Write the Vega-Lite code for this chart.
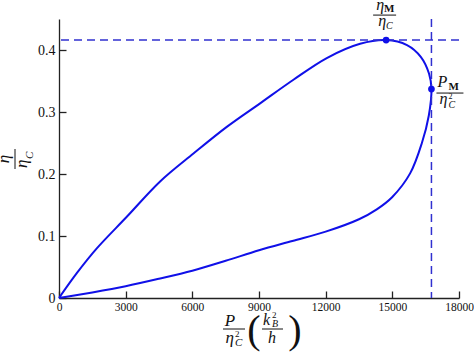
{
  "$schema": "https://vega.github.io/schema/vega-lite/v6.json",
  "width": 400,
  "height": 279,
  "autosize": {"type": "none"},
  "padding": {"left": 59, "top": 19, "right": 15, "bottom": 55},
  "background": "white",
  "config": {
    "view": {"stroke": null},
    "axis": {"grid": true, "ticks": false, "gridColor": "#222", "gridOpacity": 1, "gridWidth": 1.3, "domainColor": "#222", "labelColor": "#111", "labelFont": "Liberation Serif", "domainWidth": 1.3, "labelOverlap": false, "labelFlush": false},
    "text": {"font": "Liberation Serif", "color": "#111", "baseline": "alphabetic"}
  },
  "datasets": {
    "curve": [
      {"p": 0, "eta": 0},
      {"p": 1500, "eta": 0.009},
      {"p": 3000, "eta": 0.019},
      {"p": 4500, "eta": 0.031},
      {"p": 6000, "eta": 0.044},
      {"p": 7500, "eta": 0.060},
      {"p": 9000, "eta": 0.077},
      {"p": 10500, "eta": 0.092},
      {"p": 12000, "eta": 0.107},
      {"p": 13500, "eta": 0.127},
      {"p": 14300, "eta": 0.143},
      {"p": 15000, "eta": 0.163},
      {"p": 15800, "eta": 0.201},
      {"p": 16330, "eta": 0.250},
      {"p": 16640, "eta": 0.294},
      {"p": 16760, "eta": 0.337},
      {"p": 16650, "eta": 0.362},
      {"p": 16280, "eta": 0.389},
      {"p": 15660, "eta": 0.408},
      {"p": 14720, "eta": 0.416},
      {"p": 13550, "eta": 0.410},
      {"p": 12050, "eta": 0.387},
      {"p": 10550, "eta": 0.352},
      {"p": 9050, "eta": 0.314},
      {"p": 7550, "eta": 0.276},
      {"p": 6050, "eta": 0.233},
      {"p": 4550, "eta": 0.188},
      {"p": 3050, "eta": 0.131},
      {"p": 1700, "eta": 0.080},
      {"p": 800, "eta": 0.040},
      {"p": 0, "eta": 0}
    ],
    "pts": [
      {"p": 14720, "eta": 0.416, "name": "M"},
      {"p": 16760, "eta": 0.337, "name": "P"}
    ]
  },
  "layer": [
    {
      "data": {"name": "curve"},
      "mark": {"type": "line", "color": "#1010e8", "strokeWidth": 2, "interpolate": "catmull-rom"},
      "encoding": {
        "x": {
          "field": "p", "type": "quantitative",
          "scale": {"domain": [0, 18000], "nice": false, "zero": false},
          "axis": {
            "title": null,
            "values": [0, 1500, 3000, 4500, 6000, 7500, 9000, 10500, 12000, 13500, 15000, 16500, 18000],
            "labelExpr": "datum.value % 3000 === 0 ? format(datum.value, 'd') : ''",
            "gridDash": {"condition": {"test": "datum.value % 3000 !== 0", "value": [0, 275, 4, 1000]}, "value": [0, 272, 7, 1000]},
            "labelPadding": 3,
            "labelFontSize": 11.5
          }
        },
        "y": {
          "field": "eta", "type": "quantitative",
          "scale": {"domain": [0, 0.45], "nice": false, "zero": false},
          "axis": {
            "title": null,
            "values": [0, 0.05, 0.1, 0.15, 0.2, 0.25, 0.3, 0.35, 0.4, 0.45],
            "labelExpr": "datum.value === 0 ? '0' : (round(datum.value * 100) % 10 === 0 ? format(datum.value, '.1f') : '')",
            "gridDash": {"condition": {"test": "round(datum.value * 100) % 10 !== 0", "value": [4, 1000]}, "value": [7, 1000]},
            "labelPadding": 4,
            "labelFontSize": 14
          }
        },
        "order": {"value": null}
      }
    },
    {
      "data": {"name": "pts"},
      "transform": [{"filter": "datum.name === 'M'"}],
      "mark": {"type": "rule", "color": "#3030d0", "strokeWidth": 1.5, "strokeDash": [8, 5]},
      "encoding": {"y": {"field": "eta", "type": "quantitative"}}
    },
    {
      "data": {"name": "pts"},
      "transform": [{"filter": "datum.name === 'P'"}],
      "mark": {"type": "rule", "color": "#3030d0", "strokeWidth": 1.5, "strokeDash": [8, 5]},
      "encoding": {"x": {"field": "p", "type": "quantitative"}}
    },
    {
      "data": {"name": "pts"},
      "mark": {"type": "point", "filled": true, "opacity": 1, "color": "#1010e8", "size": 45},
      "encoding": {"x": {"field": "p", "type": "quantitative"}, "y": {"field": "eta", "type": "quantitative"}}
    },
    {
      "data": {"name": "pts"},
      "transform": [{"filter": "datum.name === 'M'"}],
      "encoding": {"x": {"field": "p", "type": "quantitative"}, "y": {"field": "eta", "type": "quantitative"}},
      "layer": [
        {"mark": {"type": "text", "text": "η", "fontStyle": "italic", "fontSize": 16, "align": "right", "dx": -2, "dy": -30}},
        {"mark": {"type": "text", "text": "M", "fontWeight": "bold", "fontSize": 11, "align": "left", "dx": -2, "dy": -28}},
        {"mark": {"type": "rule", "color": "#111", "strokeWidth": 1, "xOffset": -13, "x2Offset": 10, "yOffset": -25}, "encoding": {"x2": {"field": "p"}}},
        {"mark": {"type": "text", "text": "η", "fontStyle": "italic", "fontSize": 16, "align": "right", "dx": 0, "dy": -14}},
        {"mark": {"type": "text", "text": "C", "fontStyle": "italic", "fontSize": 10, "align": "left", "dx": 0, "dy": -11}}
      ]
    },
    {
      "data": {"name": "pts"},
      "transform": [{"filter": "datum.name === 'P'"}],
      "encoding": {"x": {"field": "p", "type": "quantitative"}, "y": {"field": "eta", "type": "quantitative"}},
      "layer": [
        {"mark": {"type": "text", "text": "P", "fontStyle": "italic", "fontSize": 16, "align": "left", "dx": 6, "dy": -2}},
        {"mark": {"type": "text", "text": "M", "fontWeight": "bold", "fontSize": 11, "align": "left", "dx": 17, "dy": 1}},
        {"mark": {"type": "rule", "color": "#111", "strokeWidth": 1, "xOffset": 5, "x2Offset": 32, "yOffset": 4}, "encoding": {"x2": {"field": "p"}}},
        {"mark": {"type": "text", "text": "η", "fontStyle": "italic", "fontSize": 16, "align": "left", "dx": 8, "dy": 15}},
        {"mark": {"type": "text", "text": "2", "fontSize": 8, "align": "left", "dx": 17, "dy": 10}},
        {"mark": {"type": "text", "text": "C", "fontStyle": "italic", "fontSize": 10, "align": "left", "dx": 17, "dy": 19}}
      ]
    },
    {
      "data": {"name": "pts"},
      "transform": [{"filter": "datum.name === 'M'"}],
      "encoding": {"x": {"datum": 0, "type": "quantitative"}, "y": {"datum": 0, "type": "quantitative"}},
      "layer": [
        {"mark": {"type": "text", "text": "P", "fontStyle": "italic", "fontSize": 17, "align": "center", "dx": 171, "dy": 28}},
        {"mark": {"type": "rule", "color": "#111", "strokeWidth": 1, "xOffset": 164, "x2Offset": 186, "yOffset": 31}, "encoding": {"x2": {"datum": 0}}},
        {"mark": {"type": "text", "text": "η", "fontStyle": "italic", "fontSize": 17, "align": "right", "dx": 175, "dy": 45}},
        {"mark": {"type": "text", "text": "2", "fontSize": 9, "align": "left", "dx": 176, "dy": 39}},
        {"mark": {"type": "text", "text": "C", "fontStyle": "italic", "fontSize": 11, "align": "left", "dx": 176, "dy": 48}},
        {"mark": {"type": "text", "text": "(", "fontSize": 40, "align": "center", "baseline": "middle", "dx": 195, "dy": 33}},
        {"mark": {"type": "text", "text": "k", "fontStyle": "italic", "fontSize": 16, "align": "left", "dx": 204, "dy": 27}},
        {"mark": {"type": "text", "text": "2", "fontSize": 9, "align": "left", "dx": 213, "dy": 20}},
        {"mark": {"type": "text", "text": "B", "fontStyle": "italic", "fontSize": 10, "align": "left", "dx": 213, "dy": 29}},
        {"mark": {"type": "rule", "color": "#111", "strokeWidth": 1, "xOffset": 203, "x2Offset": 224, "yOffset": 31}, "encoding": {"x2": {"datum": 0}}},
        {"mark": {"type": "text", "text": "h", "fontStyle": "italic", "fontSize": 16, "align": "center", "dx": 213, "dy": 45}},
        {"mark": {"type": "text", "text": ")", "fontSize": 40, "align": "center", "baseline": "middle", "dx": 236, "dy": 33}}
      ]
    },
    {
      "data": {"name": "pts"},
      "transform": [{"filter": "datum.name === 'M'"}],
      "encoding": {"x": {"datum": 0, "type": "quantitative"}, "y": {"datum": 0.2, "type": "quantitative"}},
      "layer": [
        {"mark": {"type": "text", "text": "η", "angle": 270, "fontStyle": "italic", "fontSize": 17, "align": "center", "dx": 15, "dy": -50}},
        {"mark": {"type": "rule", "color": "#111", "strokeWidth": 1, "xOffset": -44, "yOffset": -25, "y2Offset": -5}, "encoding": {"y2": {"datum": 0.2}}},
        {"mark": {"type": "text", "text": "η", "angle": 270, "fontStyle": "italic", "fontSize": 17, "align": "left", "dx": 6, "dy": -32}},
        {"mark": {"type": "text", "text": "C", "angle": 270, "fontStyle": "italic", "fontSize": 11, "align": "left", "dx": 15, "dy": -26}}
      ]
    }
  ]
}
